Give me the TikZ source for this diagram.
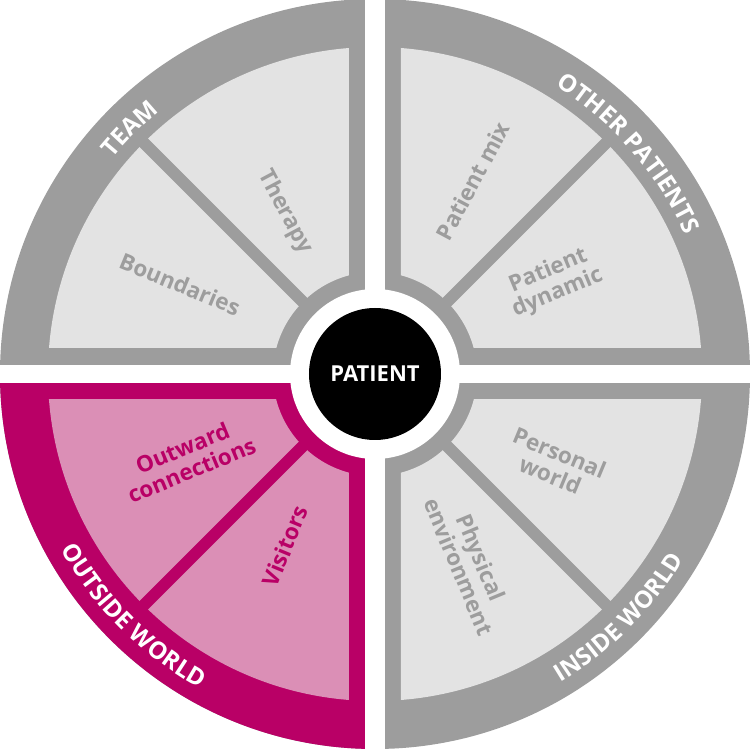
\documentclass[tikz,border=0pt]{standalone}
\usepackage{fontspec}
\setmainfont{Open Sans}
\usetikzlibrary{decorations.text}
\definecolor{dk}{HTML}{9D9D9D}
\definecolor{lt}{HTML}{E3E3E3}
\definecolor{pk}{HTML}{B90066}
\definecolor{pl}{HTML}{DB8FB6}
\begin{document}
\begin{tikzpicture}[x=1pt,y=1pt,
  inner/.style={font=\fontsize{22.5}{24}\selectfont\bfseries, text=dk, align=center},
  pinner/.style={inner, text=pk},
  ring/.style={decorate, decoration={text along path, text align=center,
     text={|\fontsize{24}{24}\selectfont\bfseries\color{white}|#1}}}]
\useasboundingbox (-375,-375) rectangle (375,374);
\fill[dk] (0,0) circle (375);
\begin{scope}
\clip (-380,0) rectangle (0,-380);
\fill[pk] (0,0) circle (375);
\end{scope}
\foreach \sx/\sy/\c in {-1/1/lt,1/1/lt,1/-1/lt,-1/-1/pl}{
  \begin{scope}
  \clip (\sx*26,\sy*26) rectangle (\sx*400,\sy*400);
  \fill[\c, even odd rule] (0,0) circle (327) (0,0) circle (102);
  \end{scope}}
\foreach \a/\c in {45/dk,135/dk,-45/dk,225/pk}
  \draw[\c, line width=12] (\a:100) -- (\a:330);
\fill[white] (-10,-380) rectangle (10,380);
\fill[white] (-380,-9) rectangle (380,9);
\fill[white] (0,0) circle (85);
\node[circle, fill=black, minimum size=132, text=white, font=\fontsize{22}{24}\selectfont\bfseries] (p) at (0,0) {PATIENT};
\path[ring=TEAM] (180:340) arc[start angle=180, end angle=90, radius=340];
\path[ring=OTHER PATIENTS] (86:340) arc[start angle=86, end angle=-4, radius=340];
\path[ring=OUTSIDE WORLD] (180:360) arc[start angle=180, end angle=270, radius=360];
\path[ring=INSIDE WORLD] (-90:360) arc[start angle=-90, end angle=0, radius=360];
\node[inner, rotate=-62] (th) at (-90,162) {Therapy};
\node[inner, rotate=-22.5] (bo) at (-195,90) {Boundaries};
\node[inner, rotate=62] (pm) at (98,193) {Patient mix};
\node[inner, rotate=22.5] (pd) at (178,92) {Patient\\dynamic};
\node[inner, rotate=-22.5] (pw) at (180,-90) {Personal\\world};
\node[inner, rotate=-67.5] (pe) at (95,-188) {Physical\\environment};
\node[pinner, rotate=22.5] (oc) at (-188,-85) {Outward\\connections};
\node[pinner, rotate=67.5] (vi) at (-90,-172) {Visitors};
\end{tikzpicture}
\end{document}
